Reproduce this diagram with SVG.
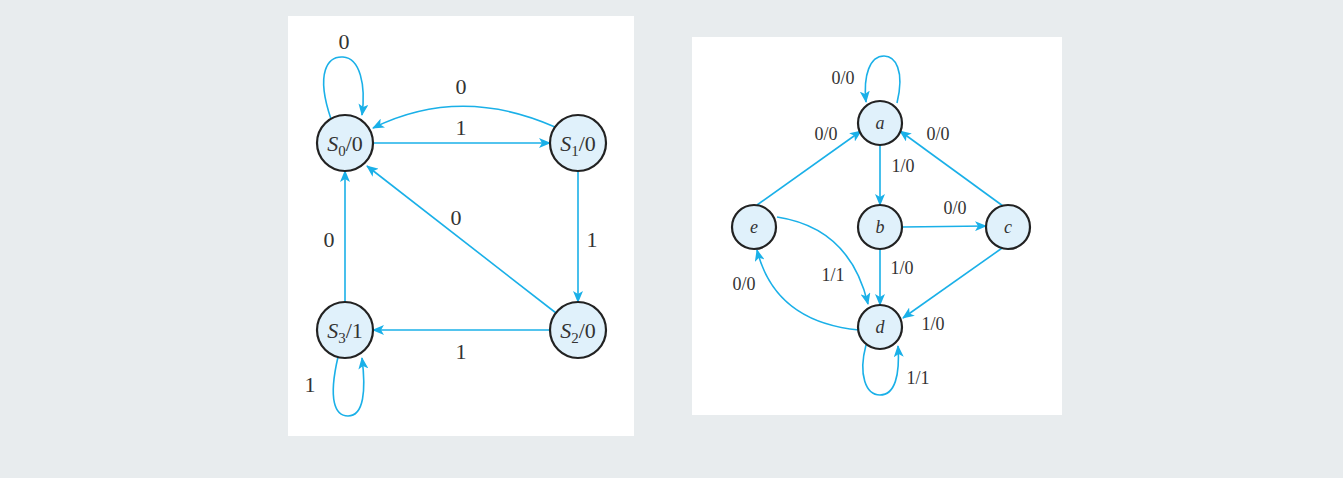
<svg xmlns="http://www.w3.org/2000/svg" width="1343" height="478" viewBox="0 0 1343 478">
<style>
.n{fill:#e0f1fb;stroke:#222;stroke-width:2.2}
.e{fill:none;stroke:#1ab0e8;stroke-width:1.6}
.t{font-family:"Liberation Serif",serif;fill:#333;text-anchor:middle}
.L{font-size:22px}.R{font-size:18px}
.i{font-style:italic}
</style>
<defs>
<marker id="ar" viewBox="0 0 12 10" refX="11" refY="5" markerWidth="12" markerHeight="10" markerUnits="userSpaceOnUse" orient="auto">
<path d="M0 0 L12 5 L0 10 L3 5 Z" fill="#1ab0e8"/>
</marker>
</defs>
<rect width="1343" height="478" fill="#e8ecee"/>
<rect x="288" y="16" width="346" height="420" fill="#fff"/>
<rect x="692" y="37" width="370" height="378" fill="#fff"/>
<g id="connectors">
<path class="e" marker-end="url(#ar)" d="M331 119 C315 72 328 56 343 57 C360 58 366 85 362 115"/>
<path class="e" marker-end="url(#ar)" d="M555 127 Q460 85 373 128"/>
<path class="e" marker-end="url(#ar)" d="M373 143 L550 143"/>
<path class="e" marker-end="url(#ar)" d="M578 171 L578 302"/>
<path class="e" marker-end="url(#ar)" d="M556 313 L367 166"/>
<path class="e" marker-end="url(#ar)" d="M550 330 L373 330"/>
<path class="e" marker-end="url(#ar)" d="M345 302 L345 171"/>
<path class="e" marker-end="url(#ar)" d="M338 357 C328 400 335 416 348 416 C364 416 366 390 362 358"/>
<path class="e" marker-end="url(#ar)" d="M897 103 C905 70 895 56 884 56 C870 56 863 75 866 102"/>
<path class="e" marker-end="url(#ar)" d="M757 205 L861 131"/>
<path class="e" marker-end="url(#ar)" d="M1003 206 L900 131"/>
<path class="e" marker-end="url(#ar)" d="M880 145 L880 205"/>
<path class="e" marker-end="url(#ar)" d="M902 227 L986 226"/>
<path class="e" marker-end="url(#ar)" d="M880 249 L880 305"/>
<path class="e" marker-end="url(#ar)" d="M1005 246 L903 318"/>
<path class="e" marker-end="url(#ar)" d="M777 217 Q850 228 868 304"/>
<path class="e" marker-end="url(#ar)" d="M859 330 Q775 322 757 250"/>
<path class="e" marker-end="url(#ar)" d="M866 345 C858 375 866 395 880 395 C895 395 900 375 898 346"/>
</g>
<g class="t L">
<text x="344" y="49">0</text><text x="461" y="94">0</text><text x="461" y="135">1</text>
<text x="592" y="247">1</text><text x="456" y="225">0</text><text x="329" y="247">0</text>
<text x="461" y="359">1</text><text x="310" y="392">1</text>
</g>
<g class="t R">
<text x="843" y="84">0/0</text><text x="826" y="140">0/0</text><text x="938" y="140">0/0</text>
<text x="903" y="172">1/0</text><text x="955" y="214">0/0</text><text x="902" y="274">1/0</text>
<text x="933" y="330">1/0</text><text x="833" y="281">1/1</text><text x="744" y="290">0/0</text>
<text x="918" y="384">1/1</text>
</g>
<g id="S0"><circle class="n" cx="345" cy="143" r="28"/><text class="t L" x="345" y="151"><tspan class="i">S</tspan><tspan font-size="15" dy="5">0</tspan><tspan dy="-5">/0</tspan></text></g>
<g id="S1"><circle class="n" cx="578" cy="143" r="28"/><text class="t L" x="578" y="151"><tspan class="i">S</tspan><tspan font-size="15" dy="5">1</tspan><tspan dy="-5">/0</tspan></text></g>
<g id="S2"><circle class="n" cx="578" cy="330" r="28"/><text class="t L" x="578" y="338"><tspan class="i">S</tspan><tspan font-size="15" dy="5">2</tspan><tspan dy="-5">/0</tspan></text></g>
<g id="S3"><circle class="n" cx="345" cy="330" r="28"/><text class="t L" x="345" y="338"><tspan class="i">S</tspan><tspan font-size="15" dy="5">3</tspan><tspan dy="-5">/1</tspan></text></g>
<g id="a"><circle class="n" cx="880" cy="123" r="22"/><text class="t R i" x="880" y="129">a</text></g>
<g id="b"><circle class="n" cx="880" cy="227" r="22"/><text class="t R i" x="880" y="233">b</text></g>
<g id="c"><circle class="n" cx="1008" cy="227" r="22"/><text class="t R i" x="1008" y="233">c</text></g>
<g id="e"><circle class="n" cx="754" cy="227" r="22"/><text class="t R i" x="754" y="233">e</text></g>
<g id="d"><circle class="n" cx="880" cy="327" r="22"/><text class="t R i" x="880" y="333">d</text></g>
</svg>
